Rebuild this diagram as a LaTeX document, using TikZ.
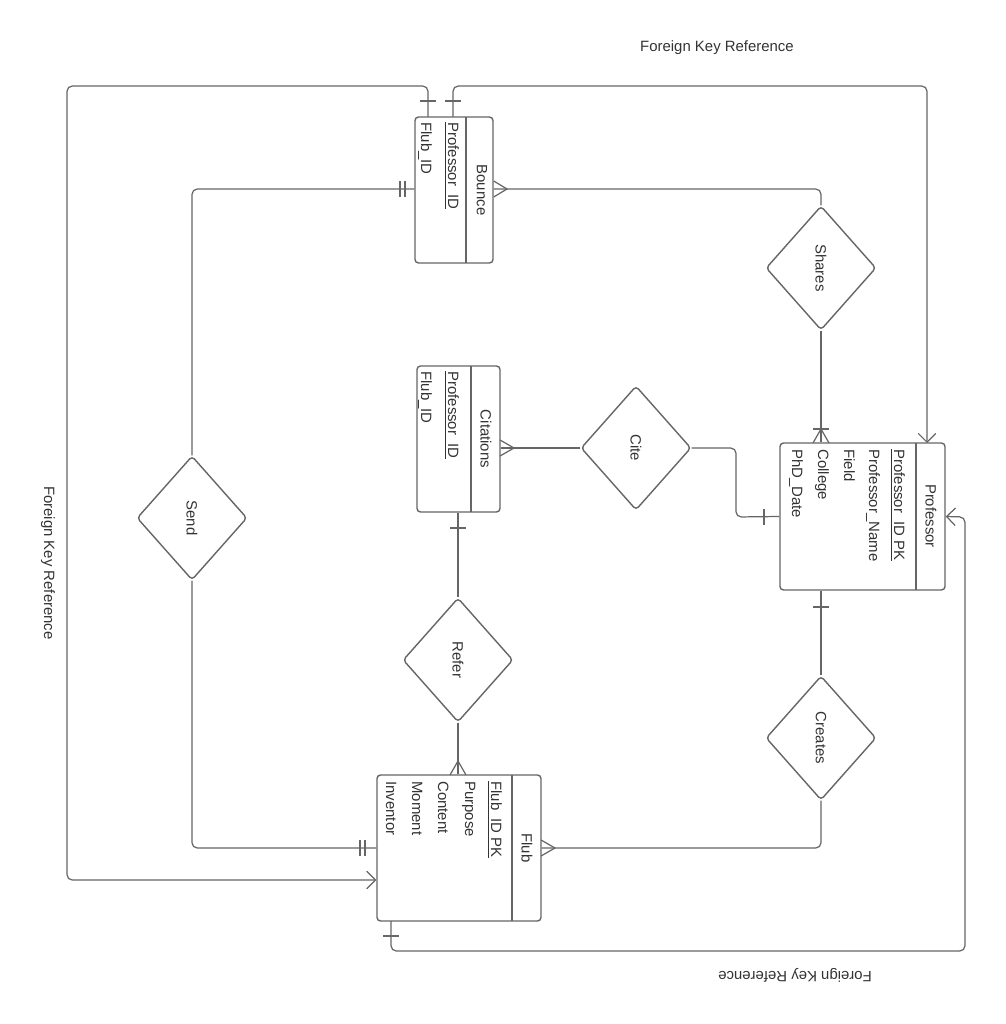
\documentclass[tikz,border=0pt]{standalone}
\usepackage{fontspec}
\setmainfont{Liberation Sans}
\usetikzlibrary{shapes.geometric,arrows.meta}
\definecolor{edge}{HTML}{666666}
\definecolor{ink}{HTML}{333333}
\def\u{0.02cm}
\tikzset{
  ent/.style={draw=edge, line width=0.8pt, rounded corners=2pt, inner sep=0pt},
  rel/.style={draw=edge, line width=0.8pt, diamond, rounded corners=2pt, inner sep=0pt,
    minimum width=124*\u, minimum height=110*\u, rotate=-90, text=ink, font=\fontsize{8.5}{10}\selectfont},
  conn/.style={draw=edge, line width=0.7pt},
  row/.style={rotate=-90, anchor=north west, inner sep=0pt, text height=6.5pt, text depth=2pt,
    text=ink, font=\fontsize{8.5}{10}\selectfont},
  head/.style={rotate=-90, inner sep=0pt, text=ink, font=\fontsize{8.5}{10}\selectfont},
  fk/.style={conn, -{Straight Barb[length=5pt,width=10pt]}, rounded corners=3pt}
}
\newcommand\keyid[1]{\underline{\smash{#1}}}
\begin{document}
\begin{tikzpicture}[x=0.02cm, y=-0.02cm]
        \useasboundingbox (0,0) rectangle (1005,1024);

        % entities
        \node[ent, minimum width=78*\u, minimum height=146*\u] (bounce) at (454,190) {};
        \node[ent, minimum width=83*\u, minimum height=146*\u] (citations) at (458.5,439) {};
        \node[ent, minimum width=165*\u, minimum height=147*\u] (professor) at (862.5,516.5) {};
        \node[ent, minimum width=164*\u, minimum height=146*\u] (flub) at (459,848) {};

        \draw[conn] (466,117) -- (466,263);
        \draw[conn] (471,366) -- (471,512);
        \draw[conn] (916,443) -- (916,590);
        \draw[conn] (512,775) -- (512,921);

        \node[head] at (482,190) {Bounce};
        \node[head] at (486,439) {Citations};
        \node[head] at (931,516) {Professor};
        \node[head] at (527,848) {Flub};

        \node[row] at (433,122) {Flub\_ID};
        \node[row] at (460,122) {\keyid{Professor\_ID}};
        \node[row] at (433,371) {Flub\_ID};
        \node[row] at (460,371) {\keyid{Professor\_ID}};
        \node[row] at (906,449) {\keyid{Professor\_ID PK}};
        \node[row] at (881,449) {Professor\_Name};
        \node[row] at (856,449) {Field};
        \node[row] at (830,449) {College};
        \node[row] at (804,449) {PhD\_Date};
        \node[row] at (503,781) {\keyid{Flub\_ID PK}};
        \node[row] at (477,781) {Purpose};
        \node[row] at (450,781) {Content};
        \node[row] at (424,781) {Moment};
        \node[row] at (398,781) {Inventor};

        % relationships
        \node[rel] (shares) at (821,268) {Shares};
        \node[rel] (cite) at (636,448) {Cite};
        \node[rel] (send) at (192,518) {Send};
        \node[rel] (refer) at (458,660) {Refer};
        \node[rel] (creates) at (821,738) {Creates};

        % connectors
        \draw[conn, rounded corners=3pt] (bounce.east |- 0,189) -- (821,189) -- (shares.west);
        \draw[conn] (bounce.east |- 0,181) -- (507,189) -- (bounce.east |- 0,197);
        \draw[conn] (shares.east) -- (professor.north -| 821,0);
        \draw[conn] (813,443) -- (821,429) -- (829,443);
        \draw[conn] (813,429) -- (829,429);
        \draw[conn] (cite.south) -- (citations.east |- 0,448);
        \draw[conn] (500,440) -- (514,448) -- (500,456);
        \draw[conn, rounded corners=3pt] (cite.north) -- (736,448) -- (736,517) -- (professor.west);
        \draw[conn] (764,509) -- (764,525);
        \draw[conn] (citations.south -| 458,0) -- (refer.west);
        \draw[conn] (450,528) -- (466,528);
        \draw[conn] (refer.east) -- (flub.north -| 458,0);
        \draw[conn] (450,775) -- (458,761) -- (466,775);
        \draw[conn, rounded corners=3pt] (bounce.west |- 0,189) -- (192,189) -- (send.west);
        \draw[conn] (400,181) -- (400,197) (405,181) -- (405,197);
        \draw[conn, rounded corners=3pt] (send.east) -- (192,848) -- (flub.west);
        \draw[conn] (360,840) -- (360,856) (365,840) -- (365,856);
        \draw[conn] (creates.west) -- (professor.south -| 821,0);
        \draw[conn] (813,607) -- (829,607);
        \draw[conn, rounded corners=3pt] (creates.east) -- (821,848) -- (flub.east);
        \draw[conn] (541,840) -- (555,848) -- (541,856);

        % foreign key references
        \draw[fk] (428,117) -- (428,86) -- (67,86) -- (67,880) -- (flub.west |- 0,880);
        \draw[conn] (420,101) -- (436,101);
        \draw[fk] (453,117) -- (453,86) -- (927,86) -- (927,443);
        \draw[conn] (445,101) -- (461,101);
        \draw[fk] (391,921) -- (391,951) -- (965,951) -- (965,517) -- (professor.east);
        \draw[conn] (383,936) -- (399,936);

        \node[text=ink, font=\fontsize{8.5}{10}\selectfont] at (717,48) {Foreign Key Reference};
        \node[head] at (48,563) {Foreign Key Reference};
        \node[rotate=180, text=ink, font=\fontsize{8.5}{10}\selectfont] at (795,975) {Foreign Key Reference};
\end{tikzpicture}
\end{document}
